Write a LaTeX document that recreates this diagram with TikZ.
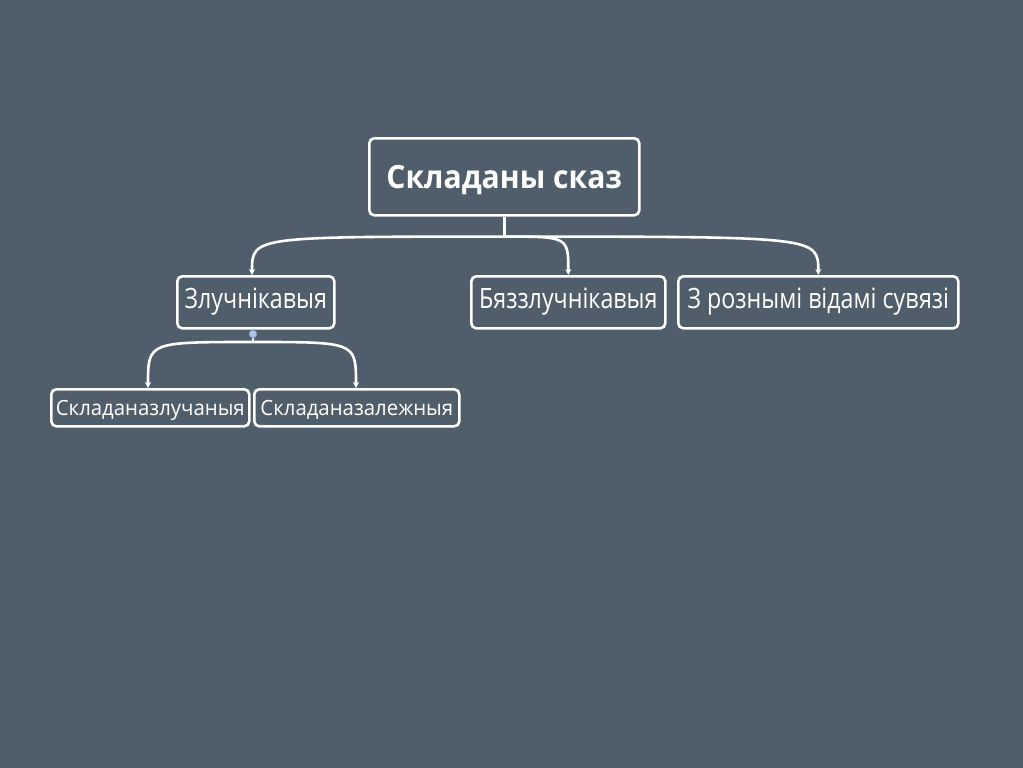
\documentclass[tikz,border=0pt]{standalone}
\usepackage{fontspec}
\usetikzlibrary{arrows.meta}
\newfontfamily\rootfont[FakeStretch=0.94]{Open Sans}
\newfontfamily\midfont[FakeStretch=0.83]{Open Sans}
\newfontfamily\lowfont[FakeStretch=0.97]{Open Sans}
\definecolor{bg}{RGB}{80,94,107}
\definecolor{dotblue}{RGB}{175,195,230}
\definecolor{dotedge}{RGB}{120,140,180}
\tikzset{
  box/.style={draw=white, line width=2.6pt, rounded corners=5pt, fill=bg, text=white, inner sep=0pt, anchor=north west, text depth=0pt},
  conn/.style={draw=white, line width=2.6pt},
  arr/.style={conn, -{Stealth[length=6pt,width=6pt]}},
}
\begin{document}
\begin{tikzpicture}[x=1pt,y=-1pt]
\useasboundingbox[fill=bg] (0,0) rectangle (1023,768);
\node[box, minimum width=270pt, minimum height=77pt, text height=23pt] (root) at (368,137) {\rootfont\fontsize{32}{36}\selectfont\bfseries Складаны сказ};
\node[box, minimum width=157pt, minimum height=52pt, text height=20pt] (zl) at (176,275) {\raisebox{4pt}{\midfont\fontsize{28}{32}\selectfont Злучнікавыя}};
\node[box, minimum width=194pt, minimum height=52pt, text height=20pt] (bz) at (470,275) {\raisebox{4pt}{\midfont\fontsize{28}{32}\selectfont Бяззлучнікавыя}};
\node[box, minimum width=280pt, minimum height=52pt, text height=20pt] (rz) at (677,275) {\raisebox{4pt}{\midfont\fontsize{28}{32}\selectfont З рознымі відамі сувязі}};
\node[box, minimum width=198pt, minimum height=37pt, text height=15pt] (sz) at (50,388) {\lowfont\fontsize{21}{24}\selectfont Складаназлучаныя};
\node[box, minimum width=205pt, minimum height=37pt, text height=15pt] (sl) at (253,388) {\lowfont\fontsize{21}{24}\selectfont Складаназалежныя};
\coordinate (j1) at ([yshift=-20pt]root.south);
\coordinate (j2) at (253,342);
\draw[conn] (root.south) -- (j1);
\draw[arr] (j1) .. controls (j1 -| 252,0) .. (zl.north -| 252,0);
\draw[arr] (j1) .. controls (j1 -| bz.north) .. (bz.north);
\draw[arr] (j1) .. controls (j1 -| rz.north) .. (rz.north);
\draw[conn] (zl.south -| j2) -- (j2);
\draw[arr] (j2) .. controls (148,342) .. (sz.north -| 148,0);
\draw[arr] (j2) .. controls (356,342) .. (sl.north -| 356,0);
\node[circle, fill=dotblue, draw=dotedge, line width=0.8pt, minimum size=8pt, inner sep=0pt] (dot) at (253,334) {};
\end{tikzpicture}
\end{document}
